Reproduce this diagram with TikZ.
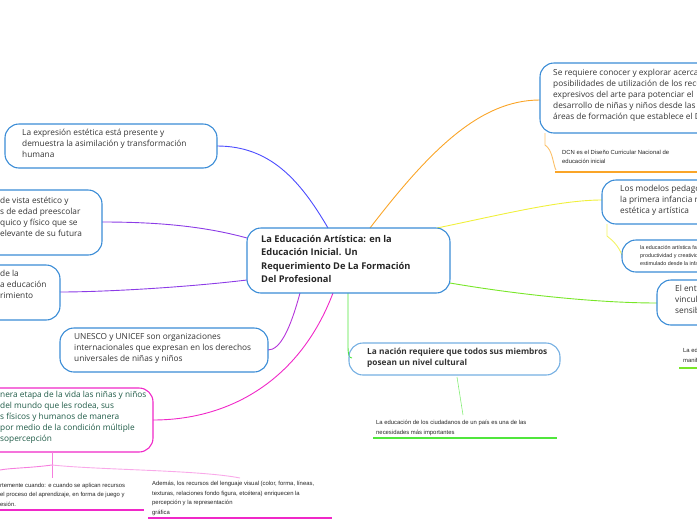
\documentclass[tikz,border=0pt]{standalone}
\usepackage{fontspec}
\setmainfont{Open Sans}
\newfontfamily\smallf{Liberation Sans}
\begin{document}
\begin{tikzpicture}[x=1pt,y=-1pt,
 box/.style={draw=#1,line width=1.1pt,rounded corners=14pt},
 box/.default={blue!60!cyan!80!black},
 t/.style={anchor=north west,align=left,inner sep=0pt,font=\fontsize{8.3}{11}\selectfont,text=black!80},
 s/.style={anchor=north west,align=left,inner sep=0pt,font=\smallf\fontsize{5.9}{9.5}\selectfont,text=black!85},
 con/.style={line width=0.9pt}]
\useasboundingbox (0,0) rectangle (697,520);
\clip (0,0) rectangle (697,520);
\definecolor{bl}{RGB}{58,140,214}
\definecolor{org}{RGB}{250,165,40}
\definecolor{yel}{RGB}{240,240,60}
\definecolor{grn}{RGB}{120,230,40}
\definecolor{gg}{RGB}{80,230,60}
\definecolor{mag}{RGB}{240,40,200}
\definecolor{pur}{RGB}{140,60,230}
\definecolor{dteal}{RGB}{30,90,70}
% connectors
\draw[con,blue!70] (328,228) .. controls (300,180) and (270,146) .. (217,146);
\draw[con,pur] (247,238) .. controls (200,225) and (150,222) .. (102,222);
\draw[con,pur] (247,280) .. controls (180,288) and (100,292) .. (60,292);
\draw[con,pur!60!mag] (300,293) .. controls (290,330) and (280,350) .. (268,350);
\draw[con,mag] (333,293) .. controls (300,380) and (230,420) .. (153,420);
\draw[con,org] (370,228) .. controls (430,150) and (480,100) .. (540,100);
\draw[con,yel] (437,228) .. controls (500,215) and (560,200) .. (602,200);
\draw[con,grn] (450,283) .. controls (520,295) and (600,303) .. (657,303);
\draw[con,gg] (348,293) -- (348,345) .. controls (348,355) and (349,358) .. (352,358);
% central
\draw[box=bl] (247,228) rectangle (450,293);
\node[t,font=\bfseries\fontsize{9.3}{13.5}\selectfont,text=black!85] (c) at (261,235) {La Educación Artística: en la\\Educación Inicial. Un\\Requerimiento De La Formación\\Del Profesional};
% left nodes
\draw[box=bl] (5,124) rectangle (217,168);
\node[t] (n1) at (22,129) {La expresión estética está presente y\\demuestra la asimilación y transformación\\humana};
\draw[box=bl] (-40,190) rectangle (102,255);
\node[t] (n2) at (0,197) {de vista estético y\\s de edad preescolar\\quico y físico que se\\elevante de su futura};
\draw[box=bl] (-40,265) rectangle (60,320);
\node[t] (n3) at (0,270) {de la\\a educación\\rimiento};
\draw[box=bl] (60,328) rectangle (268,372);
\node[t] (n4) at (74,333) {UNESCO y UNICEF son organizaciones\\internacionales que expresan en los derechos\\universales de niñas y niños};
\draw[box=mag] (-40,388) rectangle (153,452);
\node[t,text=dteal] (n5) at (0,391) {nera etapa de la vida las niñas y niños\\del mundo que les rodea, sus\\s físicos y humanos de manera\\por medio de la condición múltiple\\sopercepción};
\draw[con,mag!60] (52,452) -- (52,478);
\draw[con,mag!60] (52,465) .. controls (30,468) and (10,468) .. (0,470);
\draw[con,mag!40] (52,465) .. controls (100,470) and (200,470) .. (240,478);
\node[s] (s1) at (0,483) {rtemente cuando: e cuando se aplican recursos\\el proceso del aprendizaje, en forma de juego y\\esión.};
\draw[mag,line width=1.4pt] (0,510) -- (144,510);
\node[s] (s2) at (152,481) {Además, los recursos del lenguaje visual (color, forma, líneas,\\texturas, relaciones fondo figura, etcétera) enriquecen la\\percepción y la representación\\gráfica};
\draw[mag,line width=1.4pt] (148,518) -- (332,518);
% right nodes
\draw[box=bl] (540,63) rectangle (760,133);
\node[t] (r1) at (553,69) {Se requiere conocer y explorar acerca de las\\posibilidades de utilización de los recursos\\expresivos del arte para potenciar el\\desarrollo de niñas y niños desde las distintas\\áreas de formación que establece el DCN};
\draw[con,org!70] (545,133) -- (545,145) .. controls (553,150) and (553,165) .. (556,170);
\node[s] (r1s) at (562,150) {DCN es el Diseño Curricular Nacional de\\educación inicial};
\draw[org,line width=1.4pt] (555,172) -- (697,172);
\draw[box=bl] (602,180) rectangle (760,224);
\node[t] (r2) at (620,185) {Los modelos pedagógicos de\\la primera infancia reconocen\\estética y artística};
\draw[con,yel!80] (607,224) -- (607,236) .. controls (612,240) and (618,245) .. (622,255);
\draw[box=bl] (622,240) rectangle (760,272);
\node[s,font=\smallf\fontsize{5.4}{8.4}\selectfont] (r2s) at (640,245) {la educación artística favorece la\\productividad y creatividad\\estimulado desde la infancia};
\draw[box=bl] (657,280) rectangle (760,325);
\node[t] (r3) at (675,285) {El entorno\\vinculado\\sensible};
\node[s] (r3s) at (683,348) {La educación\\manifiesta};
\draw[grn,line width=1.4pt] (679,368) -- (697,368);
% bottom middle
\draw[box=bl!70] (349,343) rectangle (560,375);
\node[t,font=\bfseries\fontsize{8.3}{11}\selectfont] (m) at (367,348) {La nación requiere que todos sus miembros\\posean un nivel cultural};
\draw[con,gg!70,line width=0.6pt] (457,377) -- (463,415);
\node[s] (ms) at (376,420) {La educación de los ciudadanos de un país es una de las\\necesidades más importantes};
\draw[gg,line width=1.4pt] (373,438) -- (557,438);
\end{tikzpicture}
\end{document}
